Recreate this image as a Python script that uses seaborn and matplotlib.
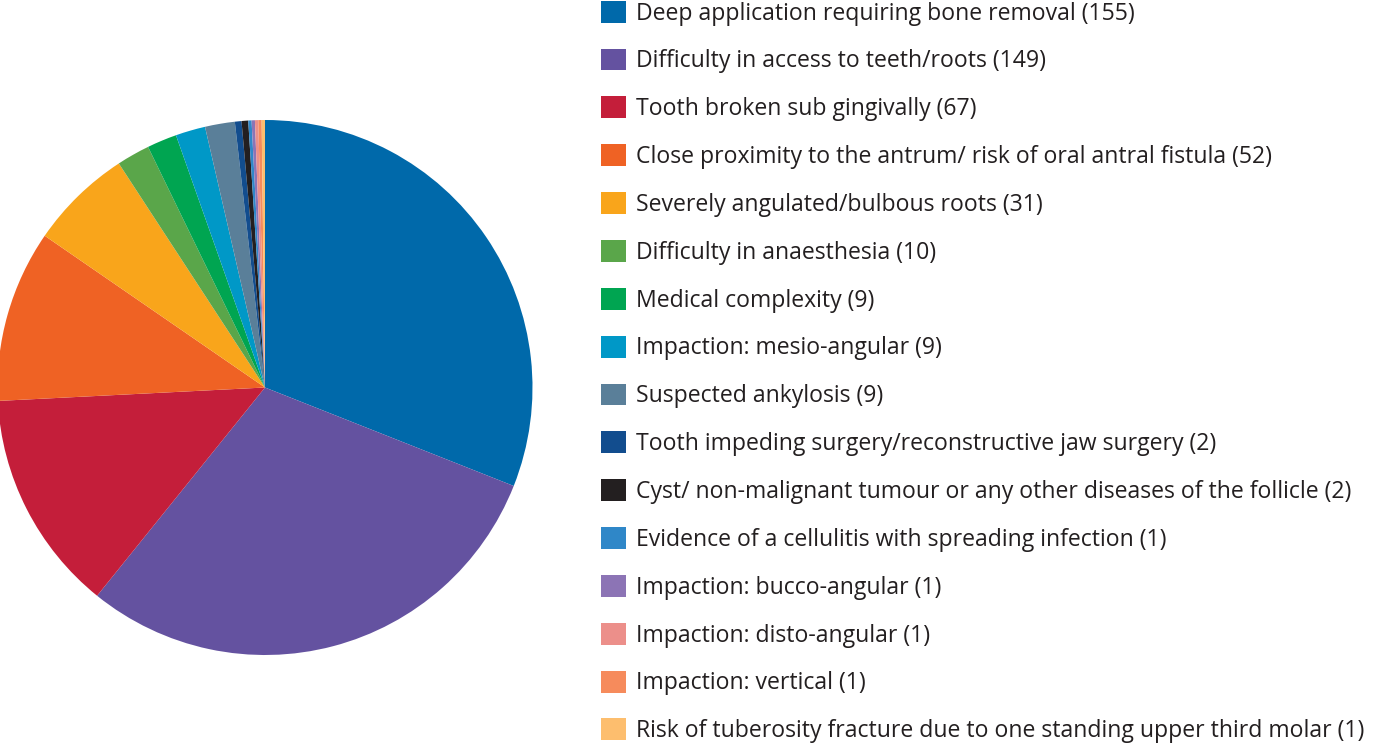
import matplotlib
matplotlib.use("Agg")
import matplotlib.pyplot as plt
import matplotlib.patches as mpatches
import seaborn as sns

categories = [
    "Deep application requiring bone removal",
    "Difficulty in access to teeth/roots",
    "Tooth broken sub gingivally",
    "Close proximity to the antrum/ risk of oral antral fistula",
    "Severely angulated/bulbous roots",
    "Difficulty in anaesthesia",
    "Medical complexity",
    "Impaction: mesio-angular",
    "Suspected ankylosis",
    "Tooth impeding surgery/reconstructive jaw surgery",
    "Cyst/ non-malignant tumour or any other diseases of the follicle",
    "Evidence of a cellulitis with spreading infection",
    "Impaction: bucco-angular",
    "Impaction: disto-angular",
    "Impaction: vertical",
    "Risk of tuberosity fracture due to one standing upper third molar",
]
counts = [155, 149, 67, 52, 31, 10, 9, 9, 9, 2, 2, 1, 1, 1, 1, 1]
hex_colors = [
    "#0069aa", "#6452a0", "#c41e3a", "#ef6224", "#f9a51b", "#5aa64a",
    "#00a551", "#0098c7", "#5a7f99", "#124d8e", "#231f20", "#2f87c8",
    "#8c74b5", "#ec8f8a", "#f68b5c", "#fdbe6e",
]

sns.set_theme(style="white")
plt.rcParams['font.family'] = ['Open Sans', 'DejaVu Sans']
palette = sns.color_palette(hex_colors)

W, H = 1386, 748
fig = plt.figure(figsize=(W / 100, H / 100), dpi=100)
cx, cy, r = 265, 387.5, 267.5
ax = fig.add_axes([(cx - r) / W, (H - cy - r) / H, 2 * r / W, 2 * r / H])
ax.pie(counts, colors=palette, startangle=90, counterclock=False,
       wedgeprops=dict(linewidth=0))
ax.set_xlim(-1, 1)
ax.set_ylim(-1, 1)
ax.set_aspect("equal")
ax.axis("off")

fs = 16.6
fs_px = fs * 100 / 72
handles = [mpatches.Patch(facecolor=c, edgecolor="none") for c in palette]
labels = [f"{c} ({n})" for c, n in zip(categories, counts)]
leg = fig.legend(handles, labels, loc="center left",
                 bbox_to_anchor=(601 / W, 1 - 372 / H),
                 frameon=False, fontsize=fs, handlelength=25 / fs_px,
                 handleheight=25 / fs_px, handletextpad=10 / fs_px,
                 labelspacing=1.0, borderpad=0, borderaxespad=0)
for t in leg.get_texts():
    t.set_color("#231f20")

fig.savefig("out.png", dpi=100)
